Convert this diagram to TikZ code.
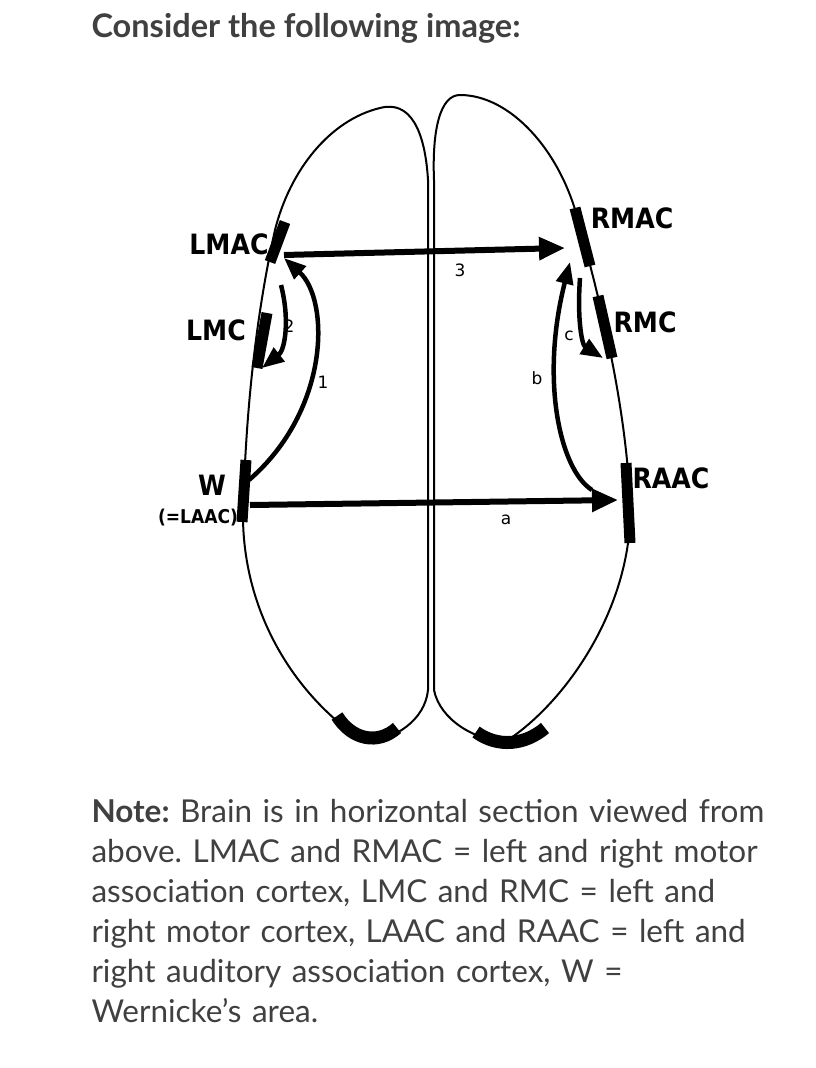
\documentclass[tikz,border=0pt]{standalone}
\usepackage{fontspec}
\setmainfont{Lato}
\frenchspacing
\newfontfamily\lab{DejaVu Sans Condensed Bold}
\newfontfamily\labr{DejaVu Sans}
\usetikzlibrary{arrows.meta}
\begin{document}
\begin{tikzpicture}[x=1pt,y=-1pt,
  outline/.style={line width=2pt},
  bar/.style={line width=11pt},
  conn/.style={line width=6pt,-{Triangle[length=26pt,width=22pt]}},
  curv/.style={line width=4.5pt,-{Triangle[length=22pt,width=17pt]}},
  lbl/.style={font=\lab\fontsize{28}{28}\selectfont},
  sm/.style={font=\labr\fontsize{17}{17}\selectfont}]
\useasboundingbox[fill=white] (0,0) rectangle (815,1068);
\node[anchor=west,font=\bfseries\fontsize{32.5}{34}\selectfont,text=black!75] (title) at (88,28) {Consider the following image:};
% left hemisphere
\draw[outline] (428,690) -- (428,180) .. controls (425,130) and (410,100) .. (380,108)
  .. controls (330,120) and (290,170) .. (275,230)
  .. controls (255,320) and (245,420) .. (243,520)
  .. controls (245,620) and (300,700) .. (365,742)
  .. controls (395,740) and (425,720) .. (428,690);
% right hemisphere
\draw[outline] (434,690) -- (434,180) .. controls (432,130) and (440,95) .. (460,95)
  .. controls (510,95) and (560,150) .. (578,220)
  .. controls (600,300) and (625,400) .. (630,500)
  .. controls (635,600) and (570,700) .. (505,742)
  .. controls (475,740) and (440,720) .. (434,690);
% bars
\draw[bar] (285,222) -- (270,262);
\draw[bar] (267,313) -- (257,368);
\draw[bar] (246,460) -- (242,522);
\draw[bar] (575,208) -- (590,266);
\draw[bar] (598,296) -- (612,358);
\draw[bar] (626,463) -- (630,543);
\draw[line width=13pt] (337,716) .. controls (352,740) and (378,745) .. (397,728);
\draw[line width=13pt] (476,732) .. controls (498,748) and (525,745) .. (545,728);
% nodes
\coordinate (lmac) at (284,255);
\coordinate (rmac) at (565,248);
\coordinate (w) at (250,505);
\coordinate (raac) at (618,500);
\coordinate (w1) at (249,480);
\coordinate (lmc) at (262,368);
\coordinate (s2) at (281,285);
\coordinate (raacb) at (592,490);
\coordinate (s3) at (580,278);
\coordinate (rmc) at (603,358);
\draw[conn] (lmac) -- (rmac);
\draw[conn] (w) -- (raac);
\draw[curv] (w1) .. controls (330,410) and (330,300) .. (284,258);
\draw[curv] (s2) .. controls (290,320) and (285,350) .. (lmc);
\draw[curv] (raacb) .. controls (560,470) and (540,380) .. (570,262);
\draw[curv] (s3) .. controls (577,320) and (582,345) .. (rmc);
% labels
\node[lbl] (t1) at (229,244) {LMAC};
\node[lbl] (t2) at (216,330) {LMC};
\node[lbl] (t3) at (212,485) {W};
\node[font=\lab\fontsize{19}{19}\selectfont] (t4) at (198,518) {(=LAAC)};
\node[lbl] (t5) at (632,218) {RMAC};
\node[lbl] (t6) at (645,322) {RMC};
\node[lbl] (t7) at (671,478) {RAAC};
\node[sm] (n3) at (460,270) {3};
\node[sm] (n2) at (289,326) {2};
\node[sm] (n1) at (323,382) {1};
\node[sm] (nb) at (537,378) {b};
\node[sm] (nc) at (569,336) {c};
\node[sm] (na) at (506,520) {a};
\node[anchor=north west,align=left,text width=720pt,text=black!75,
  font=\fontsize{31.5}{40}\selectfont] (note) at (88,796)
 {\textbf{Note:} Brain is in horizontal section viewed from\\
 above. LMAC and RMAC = left and right motor\\
 association cortex, LMC and RMC = left and\\
 right motor cortex, LAAC and RAAC = left and\\
 right auditory association cortex, W =\\
 Wernicke's area.};
\end{tikzpicture}
\end{document}
